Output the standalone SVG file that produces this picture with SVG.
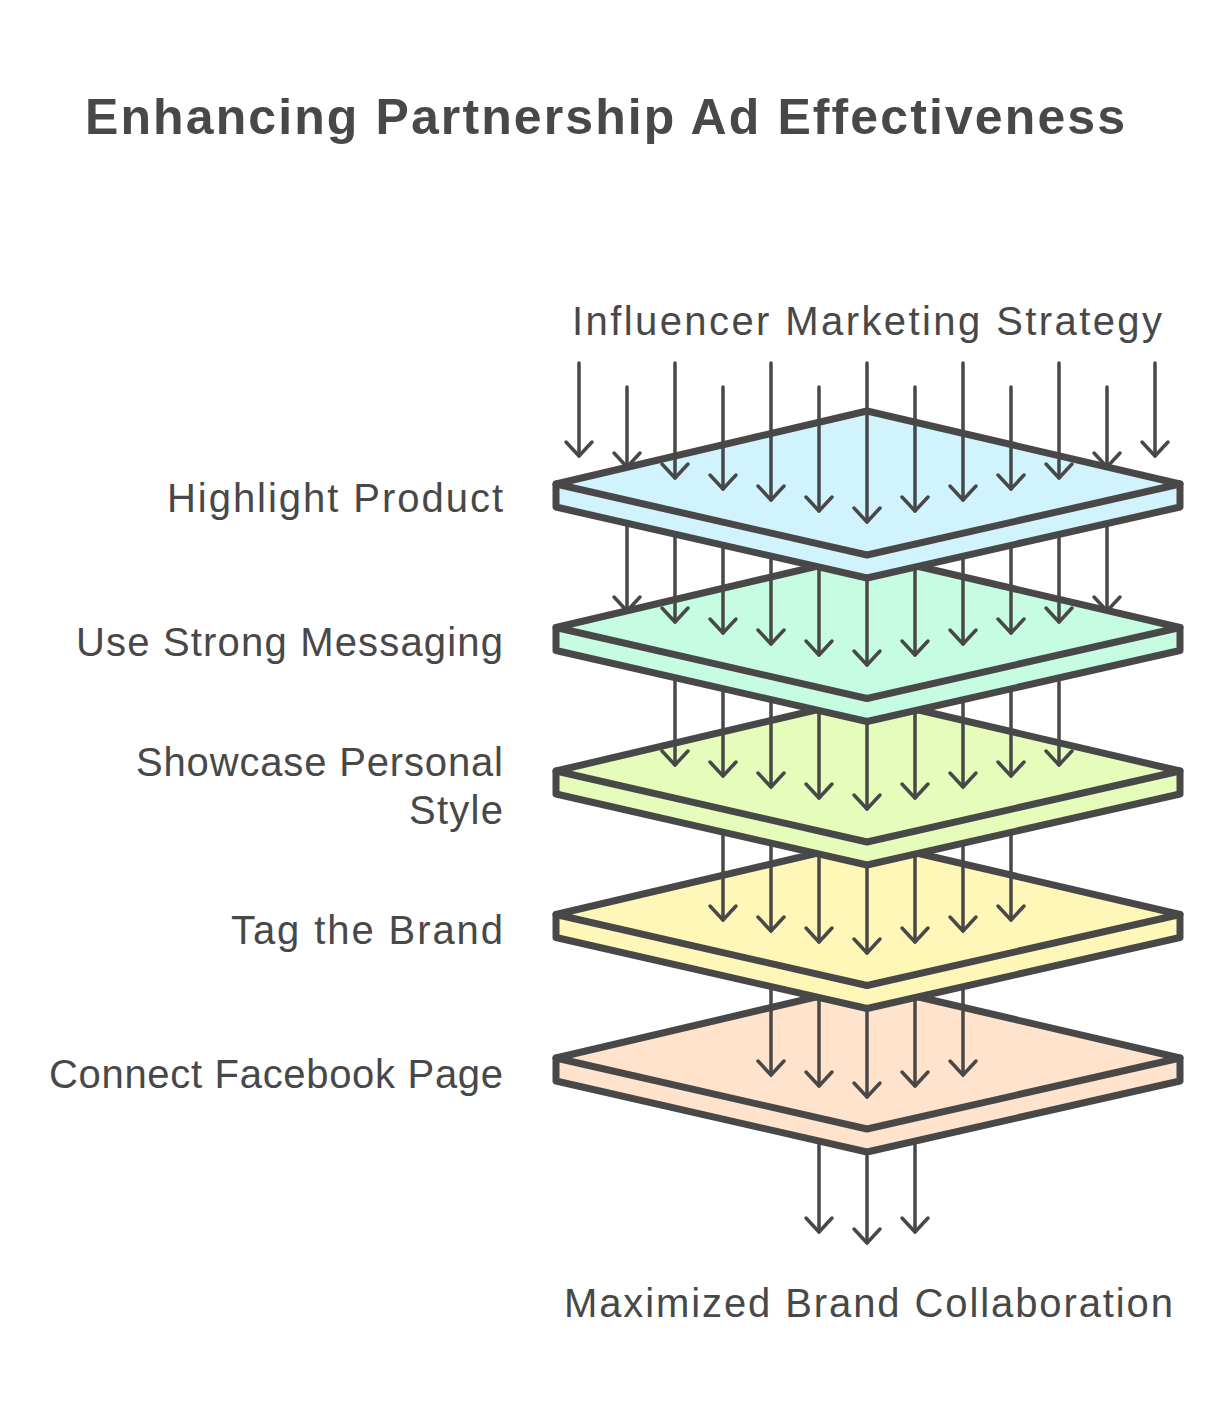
<svg xmlns="http://www.w3.org/2000/svg" width="1232" height="1424" viewBox="0 0 1232 1424">
<style>
.title{font-family:"Liberation Sans",Arial,sans-serif;font-weight:bold;font-size:50px;fill:#484848}
.lbl{font-family:"Liberation Sans",Arial,sans-serif;font-size:40px;fill:#484848}
.edge{fill:none;stroke:#484848;stroke-width:7;stroke-linejoin:round;stroke-linecap:round}
.arr{fill:none;stroke:#484848;stroke-width:3.5;stroke-linecap:round;marker-end:url(#head)}
.f1{fill:#d0f3fd}.f2{fill:#c6fce2}.f3{fill:#e5fcba}.f4{fill:#fff7b8}.f5{fill:#ffe3cc}
</style>
<defs>
<marker id="head" markerUnits="userSpaceOnUse" markerWidth="32" markerHeight="32" refX="0" refY="0" orient="auto" overflow="visible">
<path d="M -14 -13 L 0 0 L -14 13" fill="none" stroke="#484848" stroke-width="3.5" stroke-linecap="round" stroke-linejoin="round"/>
</marker>
</defs>
<rect width="1232" height="1424" fill="#ffffff"/>
<text class="title" x="85" y="134" textLength="1040">Enhancing Partnership Ad Effectiveness</text>
<text class="lbl" x="572" y="335" textLength="590">Influencer Marketing Strategy</text>

<g id="layer5">
<polygon class="f5" points="556,1058 867,985 1180,1058 1180,1081 867,1152 556,1081"/>
<path class="edge" d="M556,1058 L867,985 L1180,1058 L867,1129 Z"/>
<path class="edge" d="M556,1058 L556,1081 L867,1152 L1180,1081 L1180,1058"/>
<text class="lbl" x="49" y="1088" textLength="454">Connect Facebook Page</text>
</g>
<g id="layer4">
<polygon class="f4" points="556,914.5 867,841.5 1180,914.5 1180,937.5 867,1008.5 556,937.5"/>
<path class="edge" d="M556,914.5 L867,841.5 L1180,914.5 L867,985.5 Z"/>
<path class="edge" d="M556,914.5 L556,937.5 L867,1008.5 L1180,937.5 L1180,914.5"/>
<text class="lbl" x="231" y="944" textLength="272">Tag the Brand</text>
</g>
<g id="layer3">
<polygon class="f3" points="556,771 867,698 1180,771 1180,794 867,865 556,794"/>
<path class="edge" d="M556,771 L867,698 L1180,771 L867,842 Z"/>
<path class="edge" d="M556,771 L556,794 L867,865 L1180,794 L1180,771"/>
<text class="lbl" x="136" y="776" textLength="367">Showcase Personal</text>
<text class="lbl" x="409" y="824" textLength="94">Style</text>
</g>
<g id="layer2">
<polygon class="f2" points="556,627.5 867,554.5 1180,627.5 1180,650.5 867,721.5 556,650.5"/>
<path class="edge" d="M556,627.5 L867,554.5 L1180,627.5 L867,698.5 Z"/>
<path class="edge" d="M556,627.5 L556,650.5 L867,721.5 L1180,650.5 L1180,627.5"/>
<text class="lbl" x="76" y="656" textLength="427">Use Strong Messaging</text>
</g>
<g id="layer1">
<polygon class="f1" points="556,484 867,411 1180,484 1180,507 867,578 556,507"/>
<path class="edge" d="M556,484 L867,411 L1180,484 L867,555 Z"/>
<path class="edge" d="M556,484 L556,507 L867,578 L1180,507 L1180,484"/>
<text class="lbl" x="167" y="512" textLength="336">Highlight Product</text>
</g>

<g id="connectors">
<path class="arr" d="M579,363 L579,456"/>
<path class="arr" d="M627,387 L627,467"/>
<path class="arr" d="M675,363 L675,478"/>
<path class="arr" d="M723,387 L723,489"/>
<path class="arr" d="M771,363 L771,500"/>
<path class="arr" d="M819,387 L819,511"/>
<path class="arr" d="M867,363 L867,522"/>
<path class="arr" d="M915,387 L915,511"/>
<path class="arr" d="M963,363 L963,500"/>
<path class="arr" d="M1011,387 L1011,489"/>
<path class="arr" d="M1059,363 L1059,478"/>
<path class="arr" d="M1107,387 L1107,467"/>
<path class="arr" d="M1155,363 L1155,456"/>
<path class="arr" d="M627,526 L627,611"/>
<path class="arr" d="M675,537 L675,622"/>
<path class="arr" d="M723,548 L723,633"/>
<path class="arr" d="M771,559 L771,644"/>
<path class="arr" d="M819,570 L819,655"/>
<path class="arr" d="M867,581 L867,665"/>
<path class="arr" d="M915,570 L915,655"/>
<path class="arr" d="M963,559 L963,644"/>
<path class="arr" d="M1011,548 L1011,633"/>
<path class="arr" d="M1059,537 L1059,622"/>
<path class="arr" d="M1107,526 L1107,611"/>
<path class="arr" d="M675,681 L675,765"/>
<path class="arr" d="M723,692 L723,776"/>
<path class="arr" d="M771,703 L771,787"/>
<path class="arr" d="M819,714 L819,798"/>
<path class="arr" d="M867,725 L867,809"/>
<path class="arr" d="M915,714 L915,798"/>
<path class="arr" d="M963,703 L963,787"/>
<path class="arr" d="M1011,692 L1011,776"/>
<path class="arr" d="M1059,681 L1059,765"/>
<path class="arr" d="M723,835 L723,920"/>
<path class="arr" d="M771,846 L771,931"/>
<path class="arr" d="M819,857 L819,942"/>
<path class="arr" d="M867,868 L867,953"/>
<path class="arr" d="M915,857 L915,942"/>
<path class="arr" d="M963,846 L963,931"/>
<path class="arr" d="M1011,835 L1011,920"/>
<path class="arr" d="M771,990 L771,1075"/>
<path class="arr" d="M819,1001 L819,1086"/>
<path class="arr" d="M867,1012 L867,1097"/>
<path class="arr" d="M915,1001 L915,1086"/>
<path class="arr" d="M963,990 L963,1075"/>
<path class="arr" d="M819,1145 L819,1232"/>
<path class="arr" d="M867,1156 L867,1243"/>
<path class="arr" d="M915,1145 L915,1232"/>
</g>
<text class="lbl" x="564" y="1317" textLength="609">Maximized Brand Collaboration</text>
</svg>
